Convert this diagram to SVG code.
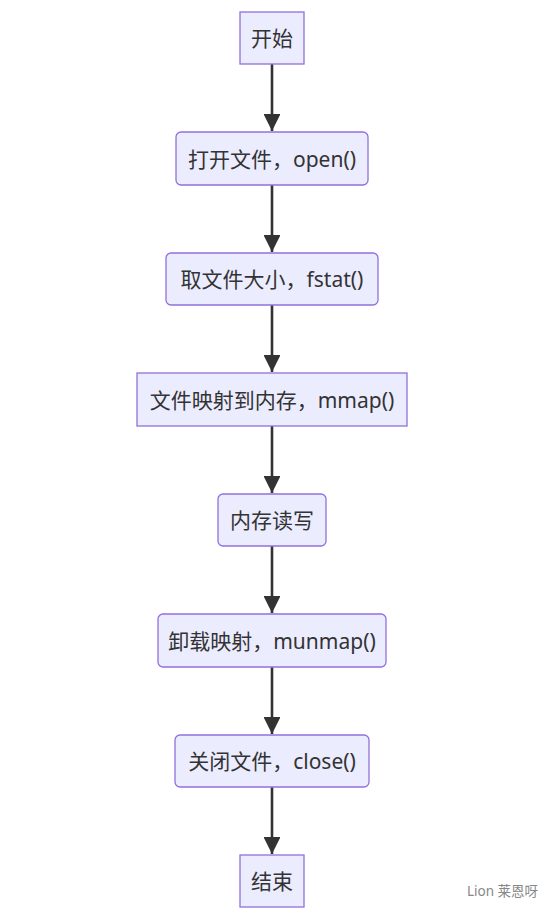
<svg xmlns="http://www.w3.org/2000/svg" width="552" height="917" viewBox="0 0 552 917">
<style>
.n{fill:#ECECFF;stroke:#9370DB;stroke-width:1.3}
.t{font-family:"Noto Sans","Noto Sans CJK SC",sans-serif;font-size:21px;fill:#333;text-anchor:middle;dominant-baseline:central}
.e{stroke:#333;stroke-width:2.6;fill:none}
.wm{font-family:"Noto Sans","Noto Sans CJK SC",sans-serif;font-size:13.5px;fill:#888}
</style>
<defs>
<marker id="ah" viewBox="0 0 10 10" refX="10" refY="5" markerWidth="6.5" markerHeight="6.5" markerUnits="strokeWidth" orient="auto">
<path d="M0,0 L10,5 L0,10 Z" fill="#333"/>
</marker>
</defs>
<rect width="552" height="917" fill="#fff"/>
<g id="edges">
<line class="e" x1="272" y1="64" x2="272" y2="131" marker-end="url(#ah)"/>
<line class="e" x1="272" y1="185" x2="272" y2="252" marker-end="url(#ah)"/>
<line class="e" x1="272" y1="305" x2="272" y2="372" marker-end="url(#ah)"/>
<line class="e" x1="272" y1="426" x2="272" y2="493" marker-end="url(#ah)"/>
<line class="e" x1="272" y1="546" x2="272" y2="613" marker-end="url(#ah)"/>
<line class="e" x1="272" y1="667" x2="272" y2="734" marker-end="url(#ah)"/>
<line class="e" x1="272" y1="787" x2="272" y2="854" marker-end="url(#ah)"/>
</g>
<g id="start"><rect class="n" x="240" y="12" width="64" height="52"/><text class="t" x="272" y="38">开始</text></g>
<g id="open"><rect class="n" x="176" y="132" width="192" height="53" rx="5"/><text class="t" x="272" y="158.5">打开文件，open()</text></g>
<g id="fstat"><rect class="n" x="166" y="253" width="212" height="52" rx="5"/><text class="t" x="272" y="279">取文件大小，fstat()</text></g>
<g id="mmap"><rect class="n" x="137" y="373" width="270" height="53"/><text class="t" x="272" y="399.5">文件映射到内存，mmap()</text></g>
<g id="rw"><rect class="n" x="218" y="494" width="108" height="52" rx="5"/><text class="t" x="272" y="520">内存读写</text></g>
<g id="munmap"><rect class="n" x="158" y="614" width="228" height="53" rx="5"/><text class="t" x="272" y="640.5">卸载映射，munmap()</text></g>
<g id="close"><rect class="n" x="175" y="735" width="194" height="52" rx="5"/><text class="t" x="272" y="761">关闭文件，close()</text></g>
<g id="end"><rect class="n" x="240" y="855" width="64" height="52"/><text class="t" x="272" y="881">结束</text></g>
<text class="wm" x="467" y="896">Lion 莱恩呀</text>
</svg>
